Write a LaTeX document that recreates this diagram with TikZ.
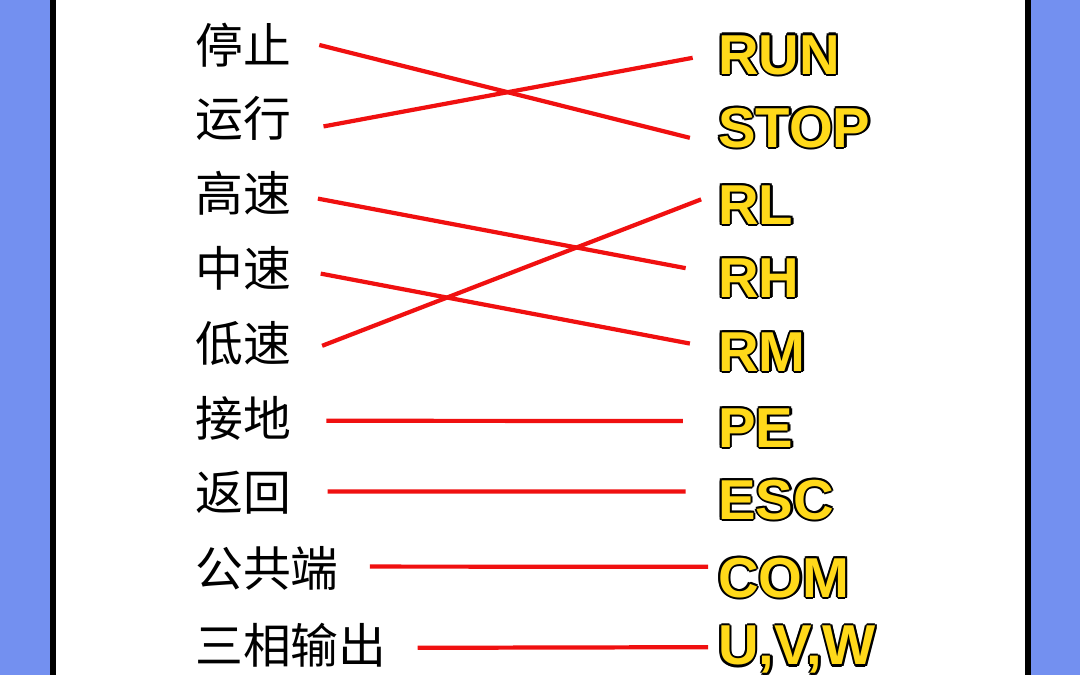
\documentclass[tikz,border=0pt]{standalone}
\usepackage{fontspec}
\newfontfamily\cjk{Noto Sans CJK SC}
\newfontfamily\latinbold{Liberation Sans Bold}
\usetikzlibrary{positioning}
\definecolor{panelblue}{HTML}{7390F0}
\definecolor{linkred}{HTML}{F01010}
\definecolor{tagyellow}{HTML}{FFD91A}
% yellow tag with black rim
\newcommand{\rimtext}[1]{%
  \makebox[0pt][l]{\foreach \dx/\dy in {-1.6/0,1.6/0,0/-1.6,0/1.6,-1.1/-1.1,1.1/1.1,-1.1/1.1,1.1/-1.1}
    {\makebox[0pt][l]{\kern\dx pt\raisebox{\dy pt}{\color{black}#1}}}}%
  {\color{tagyellow}#1}}
\tikzset{
  cn/.style={anchor=west, inner sep=0pt, font=\cjk\fontsize{34}{36}\selectfont},
  tag/.style={anchor=west, inner sep=0pt, font=\latinbold\fontsize{40}{42}\selectfont},
  link/.style={draw=linkred, line width=3pt},
}
\begin{document}
\begin{tikzpicture}[x=0.025cm, y=-0.025cm]
  \useasboundingbox (0,0) rectangle (1080,675);
  \clip (0,0) rectangle (1080,675);
  \fill[panelblue] (0,0) rectangle (1080,675);
  \fill[white, draw=black, line width=4pt] (53,-20) rectangle (1028,695);

  % left column
  \node[cn] (stop_cn) at (195,45) {停止};
  \node[cn] (run_cn) at (195,118) {运行};
  \node[cn] (high_cn) at (195,193) {高速};
  \node[cn] (mid_cn) at (195,268) {中速};
  \node[cn] (low_cn) at (195,343) {低速};
  \node[cn] (pe_cn) at (195,418) {接地};
  \node[cn] (esc_cn) at (195,493) {返回};
  \node[cn] (com_cn) at (195,568) {公共端};
  \node[cn] (uvw_cn) at (195,645) {三相输出};

  % right column
  \node[tag] (run) at (718,55) {\rimtext{RUN}};
  \node[tag] (stop) at (718,128) {\rimtext{STOP}};
  \node[tag] (rl) at (718,205) {\rimtext{RL}};
  \node[tag] (rh) at (718,278) {\rimtext{RH}};
  \node[tag] (rm) at (718,352) {\rimtext{RM}};
  \node[tag] (pe) at (718,428) {\rimtext{PE}};
  \node[tag] (esc) at (718,500) {\rimtext{ESC}};
  \node[tag] (com) at (718,578) {\rimtext{COM}};
  \node[tag] (uvw) at (718,650) {\rimtext{U,V,W}};

  \draw[link] ([xshift=20pt]stop_cn.east) -- ([xshift=-20pt,yshift=-7pt]stop.west);
  \draw[link] ([xshift=23pt,yshift=-6pt]run_cn.east) -- ([xshift=-18pt,yshift=-2pt]run.west);
  \draw[link] ([xshift=19pt,yshift=-4pt]high_cn.east) -- ([xshift=-23pt,yshift=7pt]rh.west);
  \draw[link] ([xshift=21pt,yshift=-4pt]mid_cn.east) -- ([xshift=-20pt,yshift=6pt]rm.west);
  \draw[link] ([xshift=22pt,yshift=-2pt]low_cn.east) -- ([xshift=-12pt,yshift=4pt]rl.west);
  \draw[link] ([xshift=25pt,yshift=-2pt]pe_cn.east) -- ([xshift=-25pt,yshift=5pt]pe.west);
  \draw[link] ([xshift=26pt,yshift=1pt]esc_cn.east) -- ([xshift=-23pt,yshift=6pt]esc.west);
  \draw[link] ([xshift=22pt,yshift=1pt]com_cn.east) -- ([xshift=-7pt,yshift=8pt]com.west);
  \draw[link] ([xshift=22pt,yshift=-2pt]uvw_cn.east) -- ([xshift=-7pt,yshift=2pt]uvw.west);
\end{tikzpicture}
\end{document}
